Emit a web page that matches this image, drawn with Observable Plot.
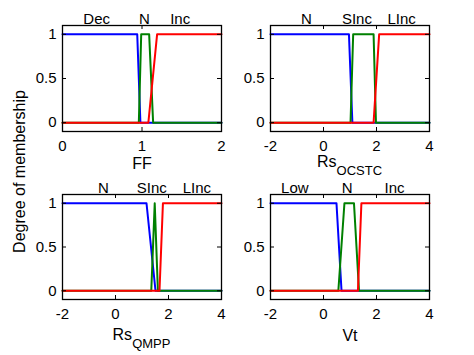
<!DOCTYPE html>
<html><head><meta charset="utf-8">
<script src="https://cdn.jsdelivr.net/npm/d3@7"></script>
<script src="https://cdn.jsdelivr.net/npm/@observablehq/plot@0.6"></script>
<style>
body{margin:0;background:#fff}
#chart{position:relative;width:474px;height:355px;background:#fff;font-family:"Liberation Sans",Arial,sans-serif}
#chart svg{position:absolute;left:0;top:0}
</style></head><body><div id="chart"></div>
<script>
const FONT = '"Liberation Sans", Arial, sans-serif';
const yDomain = [-0.1, 1.1];
const yTicks = [0, 0.5, 1];
const colors = ["#0000ff", "#008000", "#ff0000"];

// Panel 1: FF
const ffDomain = [0, 2];
const ffTicks = [0, 1, 2];
const ffNames = ["Dec", "N", "Inc"];
const ffNamePos = [0.43, 1.03, 1.48];
const ffDec = [[0,1],[0.94,1],[0.98,0],[2,0]];
const ffN   = [[0,0],[0.96,0],[0.99,1],[1.09,1],[1.14,0],[2,0]];
const ffInc = [[0,0],[1.08,0],[1.19,1],[2,1]];

// Panel 2: Rs_OCSTC
const ocDomain = [-2, 4];
const ocTicks = [-2, 0, 2, 4];
const ocNames = ["N", "SInc", "LInc"];
const ocNamePos = [-0.64, 1.26, 2.95];
const ocN    = [[-2,1],[0.96,1],[1.09,0],[4,0]];
const ocSInc = [[-2,0],[1.02,0],[1.12,1],[1.89,1],[1.98,0],[4,0]];
const ocLInc = [[-2,0],[1.89,0],[2.1,1],[4,1]];

// Panel 3: Rs_QMPP
const qmDomain = [-2, 4];
const qmTicks = [-2, 0, 2, 4];
const qmNames = ["N", "SInc", "LInc"];
const qmNamePos = [-0.46, 1.37, 3.07];
const qmN    = [[-2,1],[1.17,1],[1.51,0],[4,0]];
const qmSInc = [[-2,0],[1.35,0],[1.48,1],[1.6,0],[4,0]];
const qmLInc = [[-2,0],[1.66,0],[1.79,1],[4,1]];

// Panel 4: Vt
const vtDomain = [-2, 4];
const vtTicks = [-2, 0, 2, 4];
const vtNames = ["Low", "N", "Inc"];
const vtNamePos = [-1.08, 0.89, 2.68];
const vtLow = [[-2,1],[0.49,1],[0.68,0],[4,0]];
const vtN   = [[-2,0],[0.56,0],[0.79,1],[1.15,1],[1.34,0],[4,0]];
const vtInc = [[-2,0],[1.3,0],[1.43,1],[4,1]];

const panels = [
  {domain: ffDomain, ticks: ffTicks, names: ffNames, namePos: ffNamePos, curves: [ffDec, ffN, ffInc], label: "FF", sub: null, ml: 62, mr: 253, mt: 25, mb: 224, labelDy: 37},
  {domain: ocDomain, ticks: ocTicks, names: ocNames, namePos: ocNamePos, curves: [ocN, ocSInc, ocLInc], label: "Rs", sub: "OCSTC", ml: 270, mr: 45, mt: 25, mb: 224, labelDy: 36},
  {domain: qmDomain, ticks: qmTicks, names: qmNames, namePos: qmNamePos, curves: [qmN, qmSInc, qmLInc], label: "Rs", sub: "QMPP", ml: 62, mr: 253, mt: 194, mb: 56, labelDy: 41},
  {domain: vtDomain, ticks: vtTicks, names: vtNames, namePos: vtNamePos, curves: [vtLow, vtN, vtInc], label: "Vt", sub: null, ml: 270, mr: 45, mt: 194, mb: 56, labelDy: 41}
];

const W = 474, H = 355;
const chart = document.getElementById("chart");

panels.forEach((p, k) => {
  const fw = W - p.ml - p.mr, fh = H - p.mt - p.mb;
  const marks = [
    ...p.curves.map((c, i) => Plot.line(c, {x: d => d[0], y: d => d[1], stroke: colors[i], strokeWidth: 2})),
    Plot.tickX(p.ticks, {x: d => d, insetTop: fh - 4, stroke: "#000"}),
    Plot.tickX(p.ticks, {x: d => d, insetBottom: fh - 4, stroke: "#000"}),
    Plot.tickY(yTicks, {y: d => d, insetRight: fw - 4, stroke: "#000"}),
    Plot.tickY(yTicks, {y: d => d, insetLeft: fw - 4, stroke: "#000"}),
    Plot.frame({stroke: "#000", strokeWidth: 1.3}),
    Plot.text(p.ticks, {x: d => d, text: d => String(d), frameAnchor: "bottom", lineAnchor: "top", dy: 9, fontSize: 15, fill: "#000"}),
    Plot.text(yTicks, {y: d => d, text: d => String(d), frameAnchor: "left", textAnchor: "end", dx: -6, fontSize: 15, fill: "#000"}),
    Plot.text(p.names, {x: (d, i) => p.namePos[i], text: d => d, frameAnchor: "top", lineAnchor: "bottom", dy: -2, fontSize: 15, fill: "#000"})
  ];
  if (!p.sub) {
    marks.push(Plot.text([p.label], {text: d => d, frameAnchor: "bottom", lineAnchor: "bottom", dy: p.labelDy, fontSize: 16, fill: "#000"}));
  }
  const svg = Plot.plot({
    width: W, height: H,
    marginLeft: p.ml, marginRight: p.mr, marginTop: p.mt, marginBottom: p.mb,
    x: {domain: p.domain, axis: null},
    y: {domain: yDomain, axis: null},
    style: {background: "transparent", fontFamily: FONT, overflow: "visible"},
    marks
  });
  if (p.sub) {
    const t = d3.select(svg).append("text")
      .attr("x", p.ml + fw / 2).attr("y", H - p.mb + p.labelDy)
      .attr("text-anchor", "middle").attr("font-size", 16).attr("fill", "#000")
      .attr("font-family", FONT);
    t.append("tspan").text(p.label);
    t.append("tspan").attr("dy", 8).attr("font-size", 13).text(p.sub);
  }
  if (k === 0) {
    d3.select(svg).append("text")
      .attr("transform", "translate(25,171.5) rotate(-90)")
      .attr("text-anchor", "middle").attr("font-size", 16).attr("fill", "#000")
      .attr("font-family", FONT)
      .text("Degree of membership");
  }
  chart.appendChild(svg);
});
</script>
</body></html>
